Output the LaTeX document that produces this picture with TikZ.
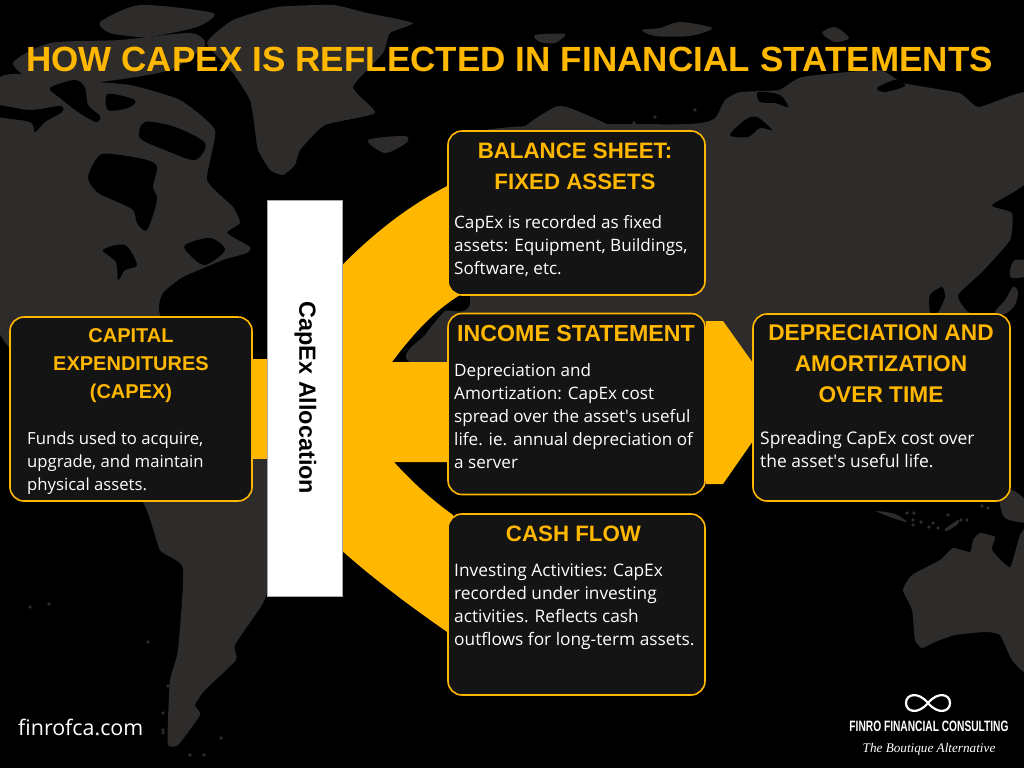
\documentclass[tikz,border=0pt]{standalone}
\usepackage{xcolor}
\usepackage{tikz}
\usepackage{fontspec}
\usetikzlibrary{positioning,backgrounds}
\setmainfont{Open Sans}
\newfontfamily\titlefont[LetterSpace=0.28]{Liberation Sans}
\newfontfamily\headfont{Liberation Sans}
\newfontfamily\logofont[FakeStretch=0.68]{Liberation Sans}
\newfontfamily\tagfont{Liberation Serif}
\definecolor{FYellow}{RGB}{255,183,0}
\definecolor{FLand}{RGB}{46,43,43}
\definecolor{FCard}{RGB}{20,20,20}
\tikzset{
  card/.style={rounded corners=14pt, draw=FYellow, line width=1.6pt, fill=FCard, minimum width=257pt, inner sep=0pt},
  headtext/.style={text=FYellow, align=center, font=\headfont\bfseries\fontsize{22.3}{31}\selectfont},
  bodytext/.style={text=white, align=left, anchor=north west, inner sep=0pt, font=\fontsize{17.1}{23}\selectfont},
  band/.style={fill=FYellow, draw=none},
  land/.style={fill=FLand, draw=none},
  sea/.style={fill=black, draw=none}
}

\begin{document}
\begin{tikzpicture}[x=1pt,y=-1pt]
      \useasboundingbox (0,0) rectangle (1024,768);

      % panels
      \node[card, minimum width=242pt, minimum height=184pt] (capexcard) at (131,409) {};
      \node[card, minimum height=164pt] (balancecard) at (576.5,213) {};
      \node[card, minimum height=181pt] (incomecard) at (576.5,404) {};
      \node[card, minimum height=181pt] (cashcard) at (576.5,604.5) {};
      \node[card, minimum height=187pt] (deprcard) at (881.5,407.5) {};
      \node[minimum width=75pt, minimum height=396pt, inner sep=0pt, fill=white, draw=gray!70, line width=0.6pt] (allocbar) at (304.5,398) {};

      \begin{scope}[on background layer]
      \fill[black] (0,0) rectangle (1024,768);

      % map
      \fill[land] plot[smooth cycle, tension=0.3] coordinates {(-5,84) (60,80) (130,85) (180,100) (215,130) (207,180) (233,207) (240,223) (227,233) (250,247) (247,253) (223,260) (183,277) (163,293) (160,315) (200,400) (255,440) (300,470) (300,590) (275,596) (268,592) (262,605) (235,645) (236,660) (205,690) (195,705) (200,715) (178,745) (168,745) (168,720) (170,680) (178,650) (183,568) (160,550) (142,501) (60,400) (-5,322)};
      \fill[land] plot[smooth cycle, tension=0.4] coordinates {(100,22) (140,5) (213,13) (197,27) (147,37) (110,33)};
      \fill[land] plot[smooth cycle, tension=0.4] coordinates {(13,63) (50,43) (120,40) (190,33) (205,45) (170,70) (100,82) (40,84)};
      \fill[sea] plot[smooth cycle, tension=0.5] coordinates {(88,177) (100,155) (120,155) (147,160) (157,167) (153,187) (157,200) (147,230) (137,223) (133,210) (113,200) (97,192)};
      \fill[sea] plot[smooth cycle, tension=0.5] coordinates {(-5,105) (30,110) (60,106) (62,112) (45,122) (35,132) (30,122) (-5,116)};
      \fill[sea] plot[smooth cycle, tension=0.5] coordinates {(50,88) (75,80) (85,88) (88,105) (100,116) (96,122) (78,112) (60,98)};
      \fill[sea] plot[smooth cycle, tension=0.5] coordinates {(108,94) (135,100) (128,108) (108,110)};
      \fill[sea] plot[smooth cycle, tension=0.5] coordinates {(145,122) (175,127) (205,143) (195,160) (165,150) (140,138)};
      \fill[sea] plot[smooth cycle, tension=0.5] coordinates {(103,250) (125,245) (137,265) (125,270) (118,280) (116,262)};
      \fill[sea] plot[smooth cycle, tension=0.5] coordinates {(185,245) (210,238) (225,250) (205,265) (190,255)};
      \fill[land] plot[smooth cycle, tension=0.3] coordinates {(207,43) (233,20) (277,7) (333,5) (367,13) (413,23) (390,33) (383,53) (353,87) (375,113) (325,125) (300,150) (295,165) (283,175) (270,170) (258,150) (255,130) (250,100) (233,73)};
      \fill[land] plot[smooth cycle, tension=0.5] coordinates {(368,140) (405,136) (406,143) (385,153)};
      \fill[land] plot[smooth cycle, tension=0.3] coordinates {(410,362) (425,335) (445,311) (470,303) (470,135) (690,124) (715,118) (725,100) (740,92) (779,90) (802,77) (879,70) (903,83) (959,93) (979,107) (1030,93) (1030,178) (992,205) (1012,213) (1010,240) (982,272) (958,295) (968,312) (1000,330) (1000,490) (870,490) (760,440) (700,440) (600,420)};
      \fill[land] plot[smooth cycle, tension=0.4] coordinates {(522,133) (555,107) (575,110) (619,133)};
      \fill[sea] plot[smooth cycle, tension=0.5] coordinates {(730,135) (745,120) (757,117) (772,130) (760,128) (748,137)};
      \fill[sea] plot[smooth cycle, tension=0.5] coordinates {(758,92) (780,95) (788,107) (775,103) (760,102)};
      \fill[sea] plot[smooth cycle, tension=0.5] coordinates {(877,88) (895,80) (905,86) (885,92)};
      \fill[sea] plot[smooth cycle, tension=0.4] coordinates {(930,295) (942,287) (945,297) (938,312) (930,312)};
      \fill[land] plot[smooth cycle, tension=0.5] coordinates {(1010,270) (1015,260) (1030,262) (1030,275) (1012,278)};
      \fill[land] plot[smooth cycle, tension=0.5] coordinates {(995,312) (1005,300) (1013,287) (1018,292) (1015,305) (1005,314)};
      \fill[land] plot[smooth cycle, tension=0.3] coordinates {(903,590) (912,575) (940,560) (953,548) (970,552) (973,540) (980,533) (995,537) (992,550) (1010,567) (1020,535) (1030,530) (1030,670) (1012,660) (1000,635) (985,632) (955,635) (935,642) (922,648) (915,640) (912,610)};
      \fill[land] plot[smooth cycle, tension=0.5] coordinates {(1000,497) (1012,490) (1030,505) (1030,522) (1005,518)};
      \fill[land] plot[smooth cycle, tension=0.5] coordinates {(876,511) (895,514) (907,522) (890,517)};
      \fill[land] plot[smooth cycle, tension=0.5] coordinates {(945,529) (958,520) (958,524) (947,531)};
      \fill[land] plot[smooth cycle, tension=0.5] coordinates {(822,33) (835,27) (849,38) (835,42)};
      \fill[land] plot[smooth cycle, tension=0.5] coordinates {(642,30) (660,28) (680,22) (712,28) (690,36) (655,36)};
      \fill[land] plot[smooth cycle, tension=0.5] coordinates {(535,35) (565,34) (555,43) (540,42)};
      \foreach \isle in {(907,513),(914,513),(913,520),(913,525),(921,522),(933,523),(929,527),(938,528),(948,515),(961,520),(967,520),(982,506),(988,508),(168,686),(163,713),(163,730),(163,733),(30,607),(49,604),(148,642),(221,738),(204,755),(190,755),(655,117),(695,110),(634,123)}
        \fill[land] \isle circle (1.8pt);

      % flows, behind the panels
      \fill[band] (capexcard.east |- 0,359) rectangle (allocbar.west |- 0,459);
      \fill[band] (allocbar.east |- 0,265) .. controls (375,232) and (410,205) .. (balancecard.west |- 0,186)
        -- (460,186) -- (460,295) .. controls (432,312) and (410,338) .. (392,362)
        -- (incomecard.west |- 0,362) -- (incomecard.west |- 0,462) -- (394,462)
        .. controls (412,482) and (432,500) .. (453,515) -- (453,636)
        -- (cashcard.west |- 0,632) .. controls (410,606) and (375,580) .. (allocbar.east |- 0,551) -- cycle;
      \fill[band] (incomecard.east |- 0,321) -- (723,321) -- (deprcard.west |- 0,362)
        -- (deprcard.west |- 0,442) -- (723,484) -- (incomecard.east |- 0,484) -- cycle;
      \end{scope}

      % texts
      \node[
        text=FYellow,
        font=\titlefont\bfseries\fontsize{35}{40}\selectfont
      ] (charttitle) at (509.5,59.5) {HOW CAPEX IS REFLECTED IN FINANCIAL STATEMENTS};
      \node[
        rotate=-90,
        font=\headfont\bfseries\fontsize{23.4}{26}\selectfont
      ] (alloclabel) at (305.5,398) {CapEx Allocation};

      \node[headtext, font=\headfont\bfseries\fontsize{20}{28}\selectfont] (capexhead) at (131,366) {CAPITAL\\EXPENDITURES\\(CAPEX)};
      \node[bodytext, font=\fontsize{16.7}{23}\selectfont] (capexbody) at (27,431.5) {Funds used to acquire,\\upgrade, and maintain\\physical assets.};

      \node[headtext] (balancehead) at (575,166.5) {BALANCE SHEET:\\FIXED ASSETS};
      \node[bodytext] (balancebody) at (454,215.5) {CapEx is recorded as fixed\\assets: Equipment, Buildings,\\Software, etc.};

      \node[headtext, font=\headfont\bfseries\fontsize{23.2}{31}\selectfont] (incomehead) at (576,334) {INCOME STATEMENT};
      \node[bodytext] (incomebody) at (454,363.5) {Depreciation and\\Amortization: CapEx cost\\spread over the asset\textquotesingle s useful\\life. ie. annual depreciation of\\a server};

      \node[headtext] (cashhead) at (573.5,534) {CASH FLOW};
      \node[bodytext, font=\fontsize{17.3}{23}\selectfont] (cashbody) at (454,563.5) {Investing Activities: CapEx\\recorded under investing\\activities. Reflects cash\\outflows for long-term assets.};

      \node[headtext, font=\headfont\bfseries\fontsize{22.7}{31}\selectfont] (deprhead) at (881,364) {DEPRECIATION AND\\AMORTIZATION\\OVER TIME};
      \node[bodytext, font=\fontsize{17.4}{23}\selectfont] (deprbody) at (760,431.5) {Spreading CapEx cost over\\the asset\textquotesingle s useful life.};

      \node[text=white, anchor=west, inner sep=0pt, font=\fontsize{21.4}{26}\selectfont] (sitelabel) at (18,727) {finrofca.com};

      % logo
      \draw[white, line width=2.2pt] (928,703) .. controls (918,691) and (906,694) .. (906,703)
        .. controls (906,712) and (918,715) .. (928,703) .. controls (938,691) and (950,694) .. (950,703)
        .. controls (950,712) and (938,715) .. (928,703);
      \node[text=white, font=\logofont\bfseries\fontsize{15}{18}\selectfont] (logoname) at (929,726) {FINRO FINANCIAL CONSULTING};
      \node[text=white, font=\tagfont\itshape\fontsize{13.2}{16}\selectfont, below=5pt of logoname] (logotag) {The Boutique Alternative};
    \end{tikzpicture}
\end{document}
